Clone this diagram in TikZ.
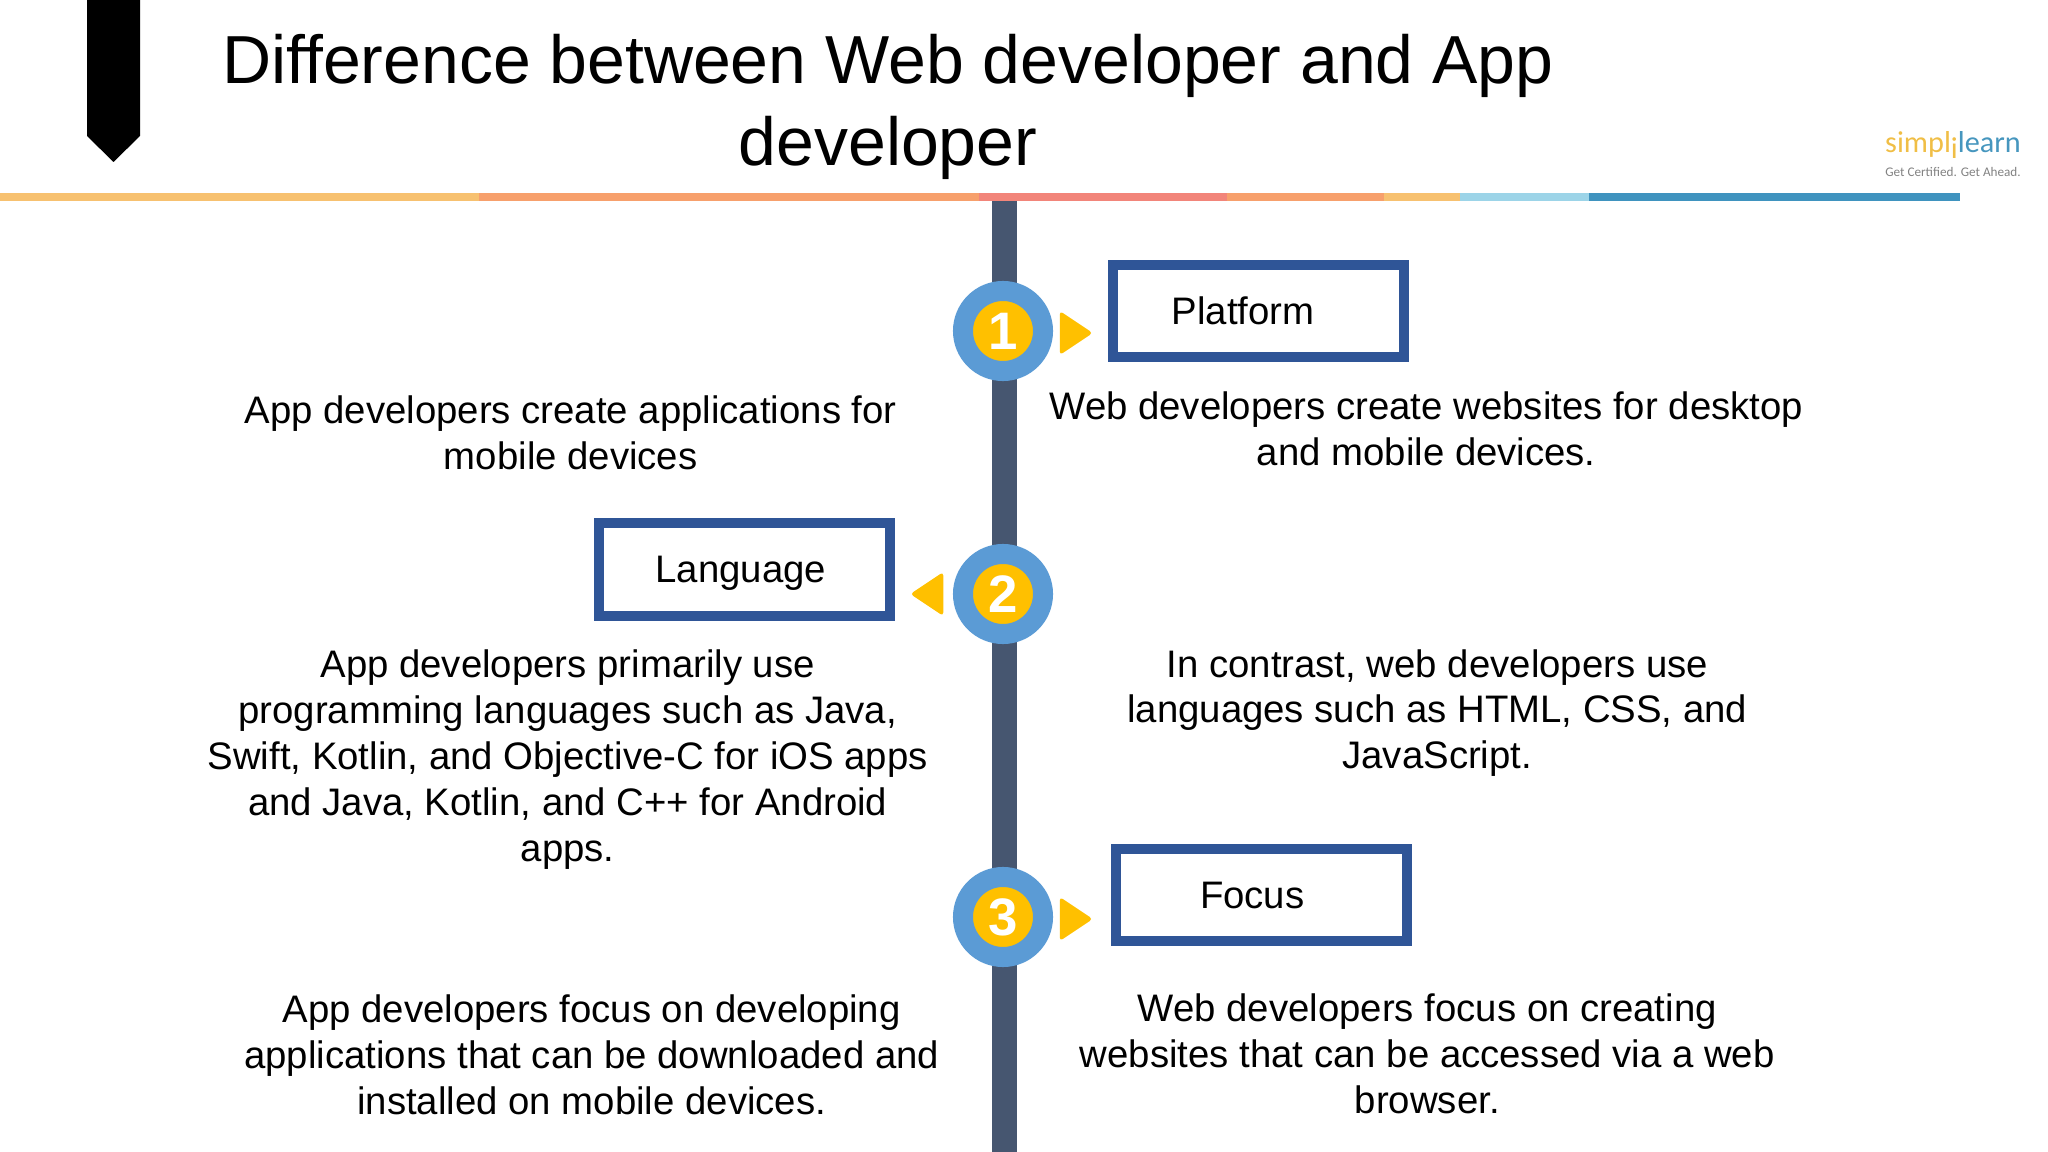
\documentclass[tikz,border=0pt]{standalone}
\usepackage{xcolor}
\usepackage{fontspec}
\setmainfont{Liberation Sans}
\newfontfamily\logofont{Carlito}
\usetikzlibrary{shapes.geometric, positioning}
\definecolor{mytrunk}{RGB}{70,86,112}
\definecolor{myring}{RGB}{91,155,213}
\definecolor{mygold}{RGB}{255,192,0}
\definecolor{mybox}{RGB}{47,85,151}
\definecolor{barsand}{RGB}{247,193,112}
\definecolor{barorange}{RGB}{247,160,108}
\definecolor{barred}{RGB}{242,133,122}
\definecolor{barsky}{RGB}{156,212,232}
\definecolor{barblue}{RGB}{63,147,191}
\definecolor{logogold}{RGB}{240,190,70}
\definecolor{logoblue}{RGB}{70,150,190}
\definecolor{logogrey}{RGB}{130,130,130}
\tikzset{
  numdot/.style={circle, draw=myring, fill=mygold, line width=0.2cm,
    minimum size=0.8cm, inner sep=0pt, text=white,
    font=\fontsize{15}{15}\selectfont\bfseries},
  headbox/.style={rectangle, draw=mybox, fill=white, line width=0.1cm,
    minimum width=2.91cm, minimum height=0.92cm, inner sep=0pt, text depth=0pt,
    font=\fontsize{10.9}{13}\selectfont},
  marker/.style={isosceles triangle, isosceles triangle stretches, fill=mygold,
    minimum width=0.44cm, minimum height=0.33cm, inner sep=0pt,
    rounded corners=1pt},
  bodytext/.style={align=center, inner sep=0pt,
    font=\fontsize{10.9}{13.05}\selectfont},
  trunk/.style={color=mytrunk, line width=0.25cm}
}

\begin{document}
\begin{tikzpicture}[x=0.01cm, y=-0.01cm]
  \useasboundingbox (0,0) rectangle (2048,1152);

  % Title and tab
  \fill[black] (87,0) -- (140,0) -- (140,136) -- (113.5,162) -- (87,136) -- cycle;
  \node[align=center, inner sep=0pt, font=\fontsize{19.33}{23.2}\selectfont] (title) at (888,107)
    {Difference between Web developer and App\\developer};

  % Coloured rule
  \foreach \xa/\xb/\barcol in {0/479/barsand, 479/979/barorange, 979/1227/barred,
    1227/1384/barorange, 1384/1460/barsand, 1460/1589/barsky, 1589/1960/barblue}
    \fill[\barcol] (\xa,193) rectangle (\xb,201);

  % Logo
  \node[inner sep=0pt, font=\logofont\fontsize{8.6}{10}\selectfont] (logo) at (1953,145)
    {\textcolor{logogold}{simpl\raisebox{-0.06cm}{i}}\textcolor{logoblue}{learn}};
  \node[below=0.07cm of logo, inner sep=0pt, text=logogrey, font=\logofont\fontsize{3.75}{4}\selectfont] (tagline)
    {Get Certified. Get Ahead.};

  % Central line
  \coordinate (trunktop) at (1004.5,201);
  \coordinate (trunkbot) at (1004.5,1152);
  \draw[trunk] (trunktop) -- (trunkbot);

  % Numbered stops
  \node[numdot] (num1) at (1003,331) {1};
  \node[numdot] (num2) at (1003,594) {2};
  \node[numdot] (num3) at (1003,917) {3};

  % Markers
  \node[marker, right=0.06cm of num1, yshift=-0.02cm] (arw1) {};
  \node[marker, shape border rotate=180, left=0.09cm of num2] (arw2) {};
  \node[marker, right=0.06cm of num3, yshift=-0.02cm] (arw3) {};

  % Headings
  \node[headbox, right=0.13cm of arw1, yshift=0.22cm] (platform) {\hspace*{-0.3cm}Platform};
  \node[headbox, left=0.13cm of arw2, yshift=0.245cm] (language) {\hspace*{-0.08cm}Language};
  \node[headbox, right=0.16cm of arw3, yshift=0.24cm] (focus) {\hspace*{-0.18cm}Focus};

  % Web side
  \node[bodytext, below=0.29cm of platform, xshift=1.68cm] (webplat)
    {Web developers create websites for desktop\\and mobile devices.};
  \node[bodytext, below=1.82cm of webplat, xshift=0.11cm] (weblang)
    {In contrast, web developers use\\languages such as HTML, CSS, and\\JavaScript.};
  \node[bodytext, below=0.47cm of focus, xshift=1.66cm] (webfocus)
    {Web developers focus on creating\\websites that can be accessed via a web\\browser.};

  % App side
  \node[bodytext, above=0.48cm of language, xshift=-1.74cm] (appplat)
    {App developers create applications for\\mobile devices};
  \node[bodytext, below=0.285cm of language, xshift=-1.77cm] (applang)
    {App developers primarily use\\programming languages such as Java,\\Swift, Kotlin, and Objective-C for iOS apps\\and Java, Kotlin, and C++ for Android\\apps.};
  \node[bodytext, below=1.24cm of applang, xshift=0.24cm] (appfocus)
    {App developers focus on developing\\applications that can be downloaded and\\installed on mobile devices.};
\end{tikzpicture}
\end{document}
